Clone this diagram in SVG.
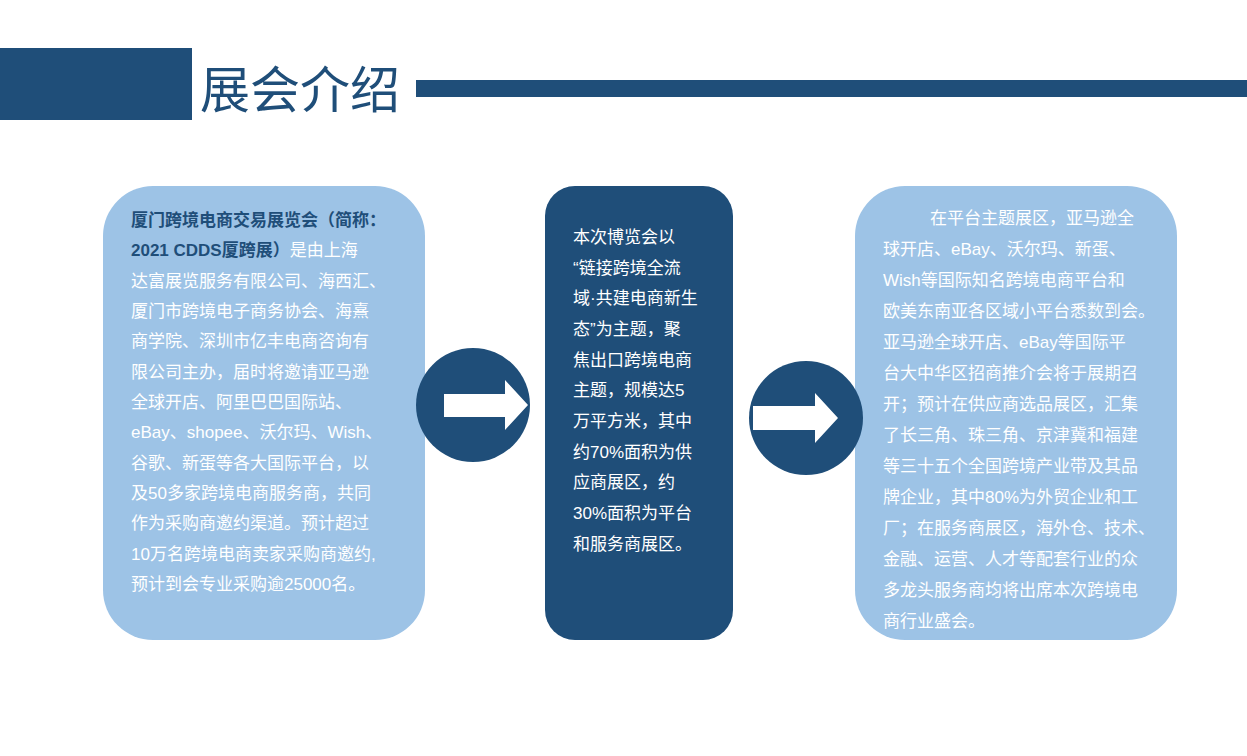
<svg xmlns="http://www.w3.org/2000/svg" width="1247" height="756" viewBox="0 0 1247 756">
<style>
.t{font-family:"Liberation Sans","Noto Sans CJK SC",sans-serif;font-size:17px;fill:#fff}
.b{font-weight:bold;fill:#1F4E79}
.d{fill:#1F4E79}
.l{fill:#9DC3E6}
</style>
<rect width="1247" height="756" fill="#fff"/>
<g id="header">
<rect class="d" x="0" y="48" width="192" height="72"/>
<text x="200" y="108" font-family="'Noto Sans CJK SC',sans-serif" font-size="50" fill="#1F4E79">展会介绍</text>
<rect class="d" x="416" y="80" width="831" height="17"/>
</g>
<g id="left">
<rect class="l" x="103" y="186" width="322" height="454" rx="50"/>
<text class="t"><tspan class="b" x="131" y="226">厦门跨境电商交易展览会（简称：</tspan><tspan class="b" x="131" y="256">2021 CDDS厦跨展）</tspan><tspan>是由上海</tspan><tspan x="131" y="287">达富展览服务有限公司、海西汇、</tspan><tspan x="131" y="317">厦门市跨境电子商务协会、海熹</tspan><tspan x="131" y="347">商学院、深圳市亿丰电商咨询有</tspan><tspan x="131" y="378">限公司主办，届时将邀请亚马逊</tspan><tspan x="131" y="408">全球开店、阿里巴巴国际站、</tspan><tspan x="131" y="438">eBay、shopee、沃尔玛、Wish、</tspan><tspan x="131" y="469">谷歌、新蛋等各大国际平台，以</tspan><tspan x="131" y="499">及50多家跨境电商服务商，共同</tspan><tspan x="131" y="529">作为采购商邀约渠道。预计超过</tspan><tspan x="131" y="560">10万名跨境电商卖家采购商邀约,</tspan><tspan x="131" y="590">预计到会专业采购逾25000名。</tspan></text>
</g>
<g id="middle">
<rect class="d" x="545" y="186" width="188" height="454" rx="30"/>
<text class="t"><tspan x="573" y="243">本次博览会以</tspan><tspan x="573" y="274">“链接跨境全流</tspan><tspan x="573" y="304">域·共建电商新生</tspan><tspan x="573" y="335">态”为主题，聚</tspan><tspan x="573" y="366">焦出口跨境电商</tspan><tspan x="573" y="396">主题，规模达5</tspan><tspan x="573" y="427">万平方米，其中</tspan><tspan x="573" y="458">约70%面积为供</tspan><tspan x="573" y="488">应商展区，约</tspan><tspan x="573" y="519">30%面积为平台</tspan><tspan x="573" y="550">和服务商展区。</tspan></text>
</g>
<g id="right">
<rect class="l" x="855" y="186" width="322" height="454" rx="50"/>
<text class="t"><tspan x="930" y="224">在平台主题展区，亚马逊全</tspan><tspan x="883" y="255">球开店、eBay、沃尔玛、新蛋、</tspan><tspan x="883" y="286">Wish等国际知名跨境电商平台和</tspan><tspan x="883" y="317">欧美东南亚各区域小平台悉数到会。</tspan><tspan x="883" y="348">亚马逊全球开店、eBay等国际平</tspan><tspan x="883" y="379">台大中华区招商推介会将于展期召</tspan><tspan x="883" y="410">开；预计在供应商选品展区，汇集</tspan><tspan x="883" y="441">了长三角、珠三角、京津冀和福建</tspan><tspan x="883" y="472">等三十五个全国跨境产业带及其品</tspan><tspan x="883" y="503">牌企业，其中80%为外贸企业和工</tspan><tspan x="883" y="534">厂；在服务商展区，海外仓、技术、</tspan><tspan x="883" y="565">金融、运营、人才等配套行业的众</tspan><tspan x="883" y="596">多龙头服务商均将出席本次跨境电</tspan><tspan x="883" y="627">商行业盛会。</tspan></text>
</g>
<g id="connectors">
<circle class="d" cx="473" cy="405" r="57"/>
<polygon fill="#fff" points="444,394 505,394 505,380 528,405 505,430 505,417 444,417"/>
<circle class="d" cx="806" cy="418" r="57"/>
<polygon fill="#fff" points="753,406 815,406 815,393 838,418 815,443 815,430 753,430"/>
</g>
</svg>
